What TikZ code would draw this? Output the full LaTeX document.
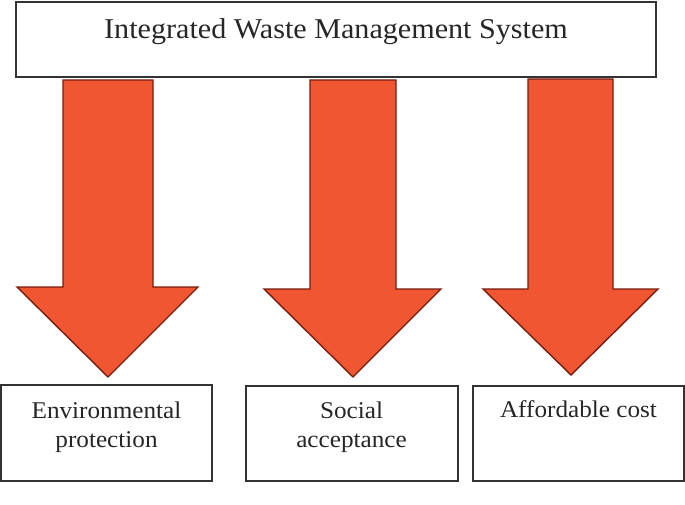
\documentclass[tikz,border=0pt]{standalone}
\usepackage{fontspec}
\setmainfont{Liberation Serif}[FakeStretch=1.05]
\definecolor{arrowfill}{HTML}{EF5631}
\definecolor{arrowline}{HTML}{7A1C0C}
\definecolor{boxline}{HTML}{333333}
\definecolor{txt}{HTML}{262626}
\tikzset{
  box/.style={draw=boxline, line width=1.4pt, fill=white},
  bigarrow/.style={fill=arrowfill, draw=arrowline, line width=1.4pt, line join=miter},
  lbl/.style={font=\fontsize{24}{29.5}\selectfont, text=txt, align=center, inner sep=0pt}
}
\begin{document}
\begin{tikzpicture}[x=1pt,y=-1pt]
\useasboundingbox (0,0) rectangle (685,505);
% top box
\draw[box] (16,2) rectangle (656,77);
\node[font=\fontsize{28.7}{34}\selectfont, text=txt, anchor=base, inner sep=0pt] (top) at (336,38.3) {Integrated Waste Management System};
% arrows
\draw[bigarrow] (63,80) -- (153,80) -- (153,287) -- (198,287) -- (108,377) -- (17,287) -- (63,287) -- cycle;
\draw[bigarrow] (310,80) -- (396,80) -- (396,289) -- (441,289) -- (353,377) -- (264,289) -- (310,289) -- cycle;
\draw[bigarrow] (528,79) -- (613,79) -- (613,289) -- (658,289) -- (571,375) -- (483,289) -- (528,289) -- cycle;
% bottom boxes
\draw[box] (1,385) rectangle (212,481);
\draw[box] (246,386) rectangle (458,481);
\draw[box] (473,386) rectangle (684,481);
\node[lbl, anchor=center] (env) at (106.5,427) {Environmental\\protection};
\node[lbl, anchor=center] (soc) at (351.5,427) {Social\\acceptance};
\node[lbl, anchor=base] (aff) at (578.5,417.7) {Affordable cost};
\end{tikzpicture}
\end{document}
